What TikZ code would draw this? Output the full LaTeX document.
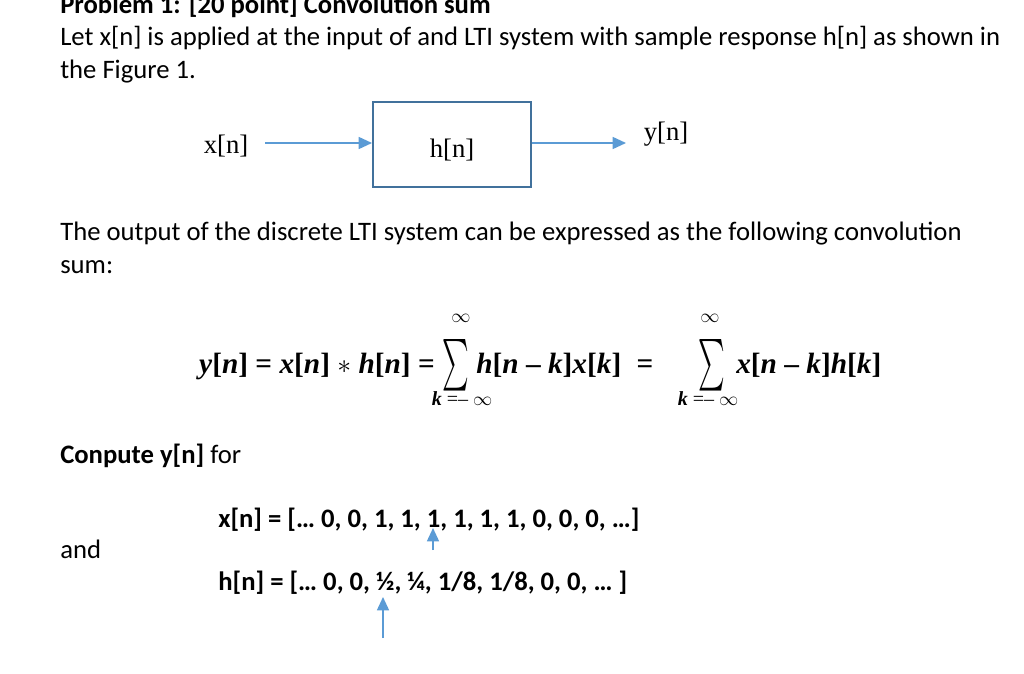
\documentclass[tikz,border=0pt]{standalone}
\usepackage{fontspec}
\usepackage{graphicx}
\setmainfont{Carlito}
\newfontfamily\serifm{Liberation Serif}
\usetikzlibrary{arrows.meta}
\tikzset{
  txt/.style={anchor=base west,inner sep=0pt,font=\fontsize{20}{24}\selectfont},
  flow/.style={line width=1.2pt,-{Triangle[length=10pt,width=9pt]},color={rgb,255:red,91;green,155;blue,213}},
  sm/.style={inner sep=0pt,font=\serifm\fontsize{20}{24}\selectfont},
  eq/.style={inner sep=0pt,anchor=base,font=\serifm\bfseries\itshape\fontsize{22}{26}\selectfont},
  sumsym/.style={inner sep=0pt},
}
\newcommand{\bigsum}{\resizebox{20pt}{29pt}{$\sum$}}
\begin{document}
\begin{tikzpicture}[x=0.75pt,y=-0.75pt]
\useasboundingbox (0,0) rectangle (1024,674);
\node[txt,font=\bfseries\fontsize{20}{24}\selectfont] (t0) at (60,14) {Problem 1: [20 point] Convolution sum};
\node[txt] (t1) at (60,46) {Let x[n] is applied at the input of and LTI system with sample response h[n] as shown in};
\node[txt] (t2) at (60,79) {the Figure 1.};
\node[sm] (xn) at (226,146) {x[n]};
\node[draw={rgb,255:red,65;green,113;blue,156},line width=1.5pt,minimum width=158*0.75pt,minimum height=85*0.75pt,inner sep=0pt] (box) at (452,144.5) {};
\node[sm] (hn) at (452,150) {h[n]};
\node[sm] (yn) at (666,134) {y[n]};
\coordinate (a0) at (265,143);
\coordinate (a2) at (626,143);
\draw[flow] (a0) -- (box.west|-a0);
\draw[flow] (box.east|-a0) -- (a2);
\node[txt] (t3) at (60,240) {The output of the discrete LTI system can be expressed as the following convolution};
\node[txt] (t4) at (60,273) {sum:};
\node[eq,anchor=base east] (e1) at (435,373) {y\textup{[}n\textup{]} \textup{=} x\textup{[}n\textup{]} \textup{$*$} h\textup{[}n\textup{]} \textup{=}};
\node[sumsym] (s1) at (456,365) {\bigsum};
\node[eq,anchor=base west] (e2) at (476,373) {h\textup{[}n \textup{–} k\textup{]}x\textup{[}k\textup{]} \hspace{6pt}\textup{=}};
\node[sumsym] (s2) at (712,365) {\bigsum};
\node[eq,anchor=base west] (e3) at (736,373) {x\textup{[}n \textup{–} k\textup{]}h\textup{[}k\textup{]}};
\node[inner sep=0pt] (i1) at (461,318) {\fontsize{15}{15}\selectfont$\infty$};
\node[inner sep=0pt] (i2) at (710,318) {\fontsize{15}{15}\selectfont$\infty$};
\node[inner sep=0pt,font=\serifm\fontsize{15}{15}\selectfont] (l1) at (462,399) {\textbf{\textit{k}} =– $\infty$};
\node[inner sep=0pt,font=\serifm\fontsize{15}{15}\selectfont] (l2) at (708,399) {\textbf{\textit{k}} =– $\infty$};
\node[txt] (t5) at (60,463) {\textbf{Conpute y[n]} for};
\node[txt,font=\bfseries\fontsize{20}{24}\selectfont] (xs) at (218,527) {x[n] = [… 0, 0, 1, 1, 1, 1, 1, 1, 0, 0, 0, …]};
\node[txt] (t6) at (60,558) {and};
\node[txt,font=\bfseries\fontsize{20}{24}\selectfont] (hs) at (218,590) {h[n] = [… 0, 0, ½, ¼, 1/8, 1/8, 0, 0, … ]};
\coordinate (p1) at (433,550); \coordinate (q1) at (433,528);
\coordinate (p2) at (383,638); \coordinate (q2) at (383,597);
\draw[flow] (p1) -- (q1);
\draw[flow] (p2) -- (q2);
\end{tikzpicture}
\end{document}
